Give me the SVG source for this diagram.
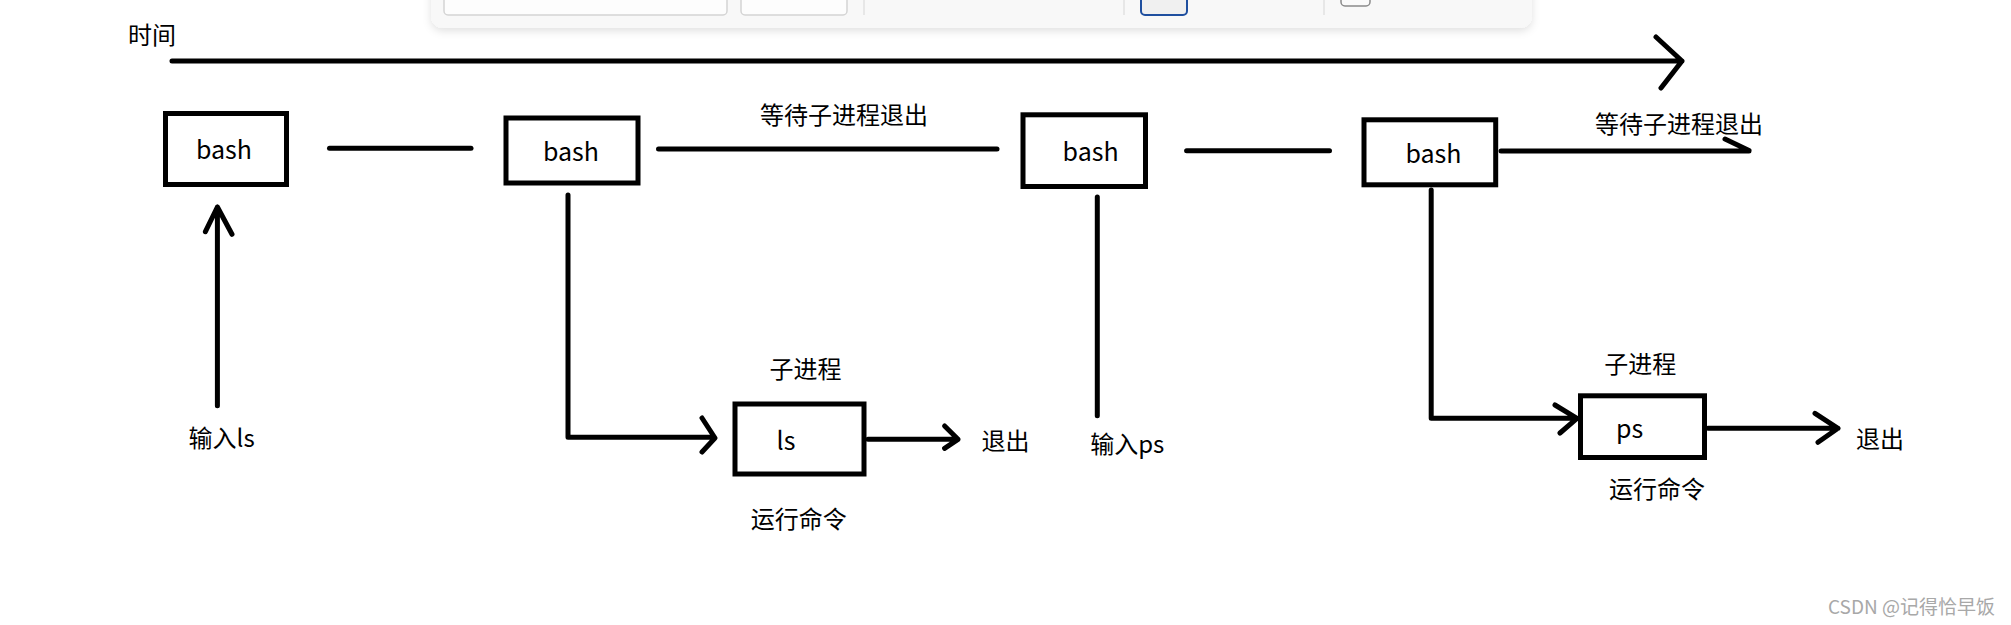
<svg xmlns="http://www.w3.org/2000/svg" width="2011" height="625" viewBox="0 0 2011 625">
<style>
.box{fill:#fff;stroke:#000;stroke-width:5}
.ln{fill:none;stroke:#000;stroke-width:5;stroke-linecap:round;stroke-linejoin:round}
text{font-family:"Noto Sans CJK SC","Microsoft YaHei",sans-serif;fill:#000;text-anchor:middle}
.t24{font-size:24px}
.t25{font-size:25px}
.wm{font-size:19px;fill:#a8a8a8;text-anchor:end}
.fld{fill:#fdfdfd;stroke:#d4d4d4;stroke-width:1.5}
.sep{stroke:#e2e2e2;stroke-width:1.5}
</style>
<defs>
<filter id="sh" x="-5%" y="-50%" width="110%" height="250%">
<feDropShadow dx="0" dy="3" stdDeviation="4" flood-color="#000" flood-opacity="0.12"/>
</filter>
</defs>
<rect width="2011" height="625" fill="#fff"/>
<g id="toolbar">
<rect x="431" y="-20" width="1101" height="48" rx="12" fill="#f8f8f8" filter="url(#sh)"/>
<rect x="444" y="-10" width="283" height="25" rx="4" class="fld"/>
<rect x="741" y="-10" width="106" height="25" rx="4" class="fld"/>
<line x1="864" y1="0" x2="864" y2="15" class="sep"/>
<line x1="1124" y1="0" x2="1124" y2="15" class="sep"/>
<rect x="1141" y="-10" width="46" height="25" rx="4" fill="#f0f0f0" stroke="#1f4f9f" stroke-width="2"/>
<line x1="1324" y1="0" x2="1324" y2="15" class="sep"/>
<rect x="1341" y="-10" width="29" height="16" rx="4" fill="#fafafa" stroke="#8a8a8a" stroke-width="1.5"/>
</g>
<g id="connectors">
<path class="ln" d="M172,61 H1682 M1656,37 L1682,61 L1661,88"/>
<path class="ln" d="M329.5,148.3 H471"/>
<path class="ln" d="M658.5,149 H997"/>
<path class="ln" d="M1186.6,150.7 H1329.5"/>
<path class="ln" d="M1501,151 H1749 M1725,139 L1749,150.5"/>
<path class="ln" d="M217.4,405.7 V207 M205.4,231.7 L217.4,207 L232,234.3"/>
<path class="ln" d="M568,195 V437.3 H714 M702,418 L715,438 L702,452"/>
<path class="ln" d="M868,439.3 H958 M944.6,426 L958,439.3 L944.6,448.3"/>
<path class="ln" d="M1097.3,197 V415.7"/>
<path class="ln" d="M1431.2,190 V418.3 H1577 M1555,405 L1577,418.3 L1560,433"/>
<path class="ln" d="M1708,428.3 H1838 M1815,413.3 L1838,428.3 L1818,442.3"/>
</g>
<g id="bash1"><rect class="box" x="165.5" y="113.5" width="121" height="71"/><text class="t25" x="224" y="159">bash</text></g>
<g id="bash2"><rect class="box" x="506" y="118" width="132" height="65"/><text class="t25" x="571" y="161">bash</text></g>
<g id="bash3"><rect class="box" x="1023" y="114.8" width="122.5" height="71.7"/><text class="t25" x="1090.6" y="161">bash</text></g>
<g id="bash4"><rect class="box" x="1364" y="119.8" width="131.7" height="65"/><text class="t25" x="1433.5" y="163">bash</text></g>
<g id="ls"><rect class="box" x="735" y="404" width="129" height="70"/><text class="t25" x="786" y="450">ls</text></g>
<g id="ps"><rect class="box" x="1580.5" y="395.8" width="124" height="61.7"/><text class="t25" x="1629.5" y="438">ps</text></g>
<g id="labels">
<text class="t24" x="152" y="43.5">时间</text>
<text class="t24" x="844" y="124">等待子进程退出</text>
<text class="t24" x="1679" y="133">等待子进程退出</text>
<text class="t24" x="221.6" y="447">输入ls</text>
<text class="t24" x="805.5" y="378">子进程</text>
<text class="t24" x="1005.5" y="449.5">退出</text>
<text class="t24" x="798.7" y="527.5">运行命令</text>
<text class="t24" x="1127.3" y="453">输入ps</text>
<text class="t24" x="1640.3" y="373">子进程</text>
<text class="t24" x="1880" y="447.5">退出</text>
<text class="t24" x="1657" y="497.5">运行命令</text>
<text class="wm" x="1995" y="614">CSDN @记得恰早饭</text>
</g>
</svg>
